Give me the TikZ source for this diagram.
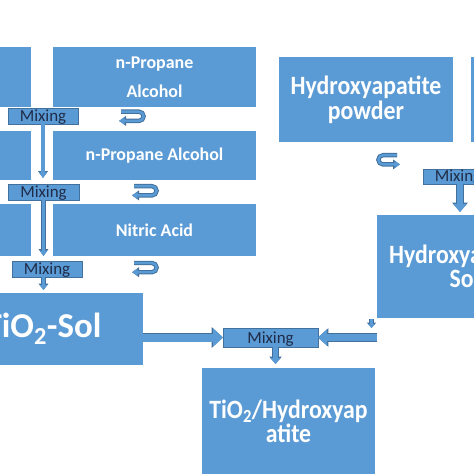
\documentclass[tikz,border=0pt]{standalone}
\usepackage{fontspec}
\setmainfont{Carlito}
\newfontfamily\cnarrow[FakeStretch=0.9]{Carlito}
\usetikzlibrary{arrows.meta,calc}
\definecolor{boxblue}{HTML}{5B9BD5}
\definecolor{edgeblue}{HTML}{41719C}
\definecolor{navy}{HTML}{1F2B47}
\newcommand\fNP{\fontsize{18}{29}\selectfont\bfseries}
\newcommand\fHap{\cnarrow\fontsize{26.5}{25}\selectfont\bfseries}
\newcommand\fBig{\cnarrow\fontsize{26.5}{21}\selectfont\bfseries}
\newcommand\fSol{\fontsize{35}{40}\selectfont\bfseries}
\newcommand\fMix{\fontsize{17}{17}\selectfont}
\tikzset{
  box/.style={fill=boxblue, draw=none, inner sep=0pt, outer sep=0pt, anchor=north west, text=white, align=center},
  mixbox/.style={fill=boxblue, draw=edgeblue, line width=0.8bp, inner sep=0pt, outer sep=0pt, anchor=north west, text=navy, font=\fMix, minimum height=16bp, text height=13.5bp, text depth=2.5bp},
  turnout/.style={line width=4.4bp, edgeblue, -{Triangle[length=7bp,width=9.5bp]}},
  turnin/.style={line width=2.4bp, boxblue, -{Triangle[length=5.5bp,width=6.5bp]}}
}
\newcommand\blockarrow[6][]{%
  \pgfmathsetmacro\baW{#4+1.4}\pgfmathsetmacro\baHW{#5+2}\pgfmathsetmacro\baHL{#6+1.4}%
  \draw[edgeblue, line width=\baW bp, -{Triangle[length=\baHL bp,width=\baHW bp]}, #1] #2 -- #3;
  \draw[boxblue, line width=#4bp, -{Triangle[length=#6bp,width=#5bp]}, #1] #2 -- #3;}
\newcommand\turnL[2]{%
  \draw[turnout] (#1+2,#2) -- (#1+20,#2) arc[start angle=-90,end angle=90,radius=4.6] -- (#1,#2+9.2);
  \draw[turnin] (#1+2,#2) -- (#1+20,#2) arc[start angle=-90,end angle=90,radius=4.6] -- (#1,#2+9.2);}
\newcommand\turnR[2]{%
  \draw[turnout] (#1-3,#2) -- (#1-17,#2) arc[start angle=-90,end angle=-270,radius=4.6] -- (#1,#2+9.2);
  \draw[turnin] (#1-3,#2) -- (#1-17,#2) arc[start angle=-90,end angle=-270,radius=4.6] -- (#1,#2+9.2);}
\begin{document}
\begin{tikzpicture}[x=1bp,y=-1bp]
\fill[white] (0,0) rectangle (474,474);
\useasboundingbox (0,0) rectangle (474,474);
\clip (0,0) rectangle (474,474);
% left column
\node[box, minimum width=51bp, minimum height=60bp] (l1) at (-20,47) {};
\node[box, minimum width=203bp, minimum height=60bp, font=\fNP] (np1) at (53,47) {n-Propane\\Alcohol};
\node[mixbox, minimum width=70bp] (m1) at (8,108) {Mixing};
\node[box, minimum width=51bp, minimum height=49bp] (l2) at (-20,131) {};
\node[box, minimum width=203bp, minimum height=49bp, font=\fNP] (np2) at (53,131) {n-Propane Alcohol};
\node[mixbox, minimum width=71bp] (m2) at (8,184) {Mixing};
\node[box, minimum width=51bp, minimum height=52bp] (l3) at (-20,204) {};
\node[box, minimum width=203bp, minimum height=52bp, font=\fNP] (na) at (53,204) {Nitric Acid};
\node[mixbox, minimum width=70bp] (m3) at (12,261) {Mixing};
\node[box, minimum width=200bp, minimum height=72bp, font=\fSol] (tio2) at (-57,293) {TiO\textsubscript{2}-Sol};
% bottom middle
\node[mixbox, minimum width=95bp, minimum height=19bp, text height=15bp, text depth=4bp] (m4) at (223,328) {Mixing};
\node[box, minimum width=173bp, minimum height=106bp, font=\fBig] (tha) at (202,368) {TiO\textsubscript{2}/Hydroxyap\\atite};
% right
\node[box, minimum width=174bp, minimum height=85bp, font=\fHap] (hap) at (279,57) {Hydroxyapatite\\powder};
\node[box, minimum width=60bp, minimum height=85bp] (rb) at (471,57) {};
\node[mixbox, minimum width=70bp, minimum height=15bp, text height=12.2bp, text depth=2.8bp] (m5) at (423,169.5) {Mixing};
\node[box, minimum width=175bp, minimum height=103bp, font=\fBig] (has) at (377,215) {Hydroxyapatite\\Sol};
% helper coordinates
\coordinate (hsw) at ($(has.south west)+(-5.5,1)$);
\coordinate (m4d) at ($(m4.south)+(5,0)$);
\coordinate (m5d) at ($(m5.south)+(2,0)$);
% block arrows
\blockarrow[shorten >=6bp]{(m1.south)}{(m1.south |- m2.north)}{3.2}{7.5}{5.5}
\blockarrow[shorten >=5bp]{(m2.south)}{(m2.south |- m3.north)}{3.2}{7.5}{5.5}
\blockarrow[shorten >=3bp]{(m2.south |- m3.south)}{(m2.south |- tio2.north)}{3.5}{7.5}{5}
\blockarrow{(tio2.east |- m4.west)}{(m4.west)}{8}{18}{10}
\blockarrow{(has.south west |- m4.east)}{(m4.east)}{7}{16}{9}
\blockarrow{(hsw)}{(hsw |- m4.north)}{3}{7}{4}
\blockarrow[shorten >=4bp]{(m4d)}{(m4d |- tha.north)}{5}{10}{6}
\blockarrow[shorten >=3bp]{(m5d)}{(m5d |- has.north)}{6}{13}{8}
% turn arrows
\turnL{119}{111.7}
\turnL{132}{186.2}
\turnL{132}{263}
\turnR{400}{155.2}
\end{tikzpicture}
\end{document}
